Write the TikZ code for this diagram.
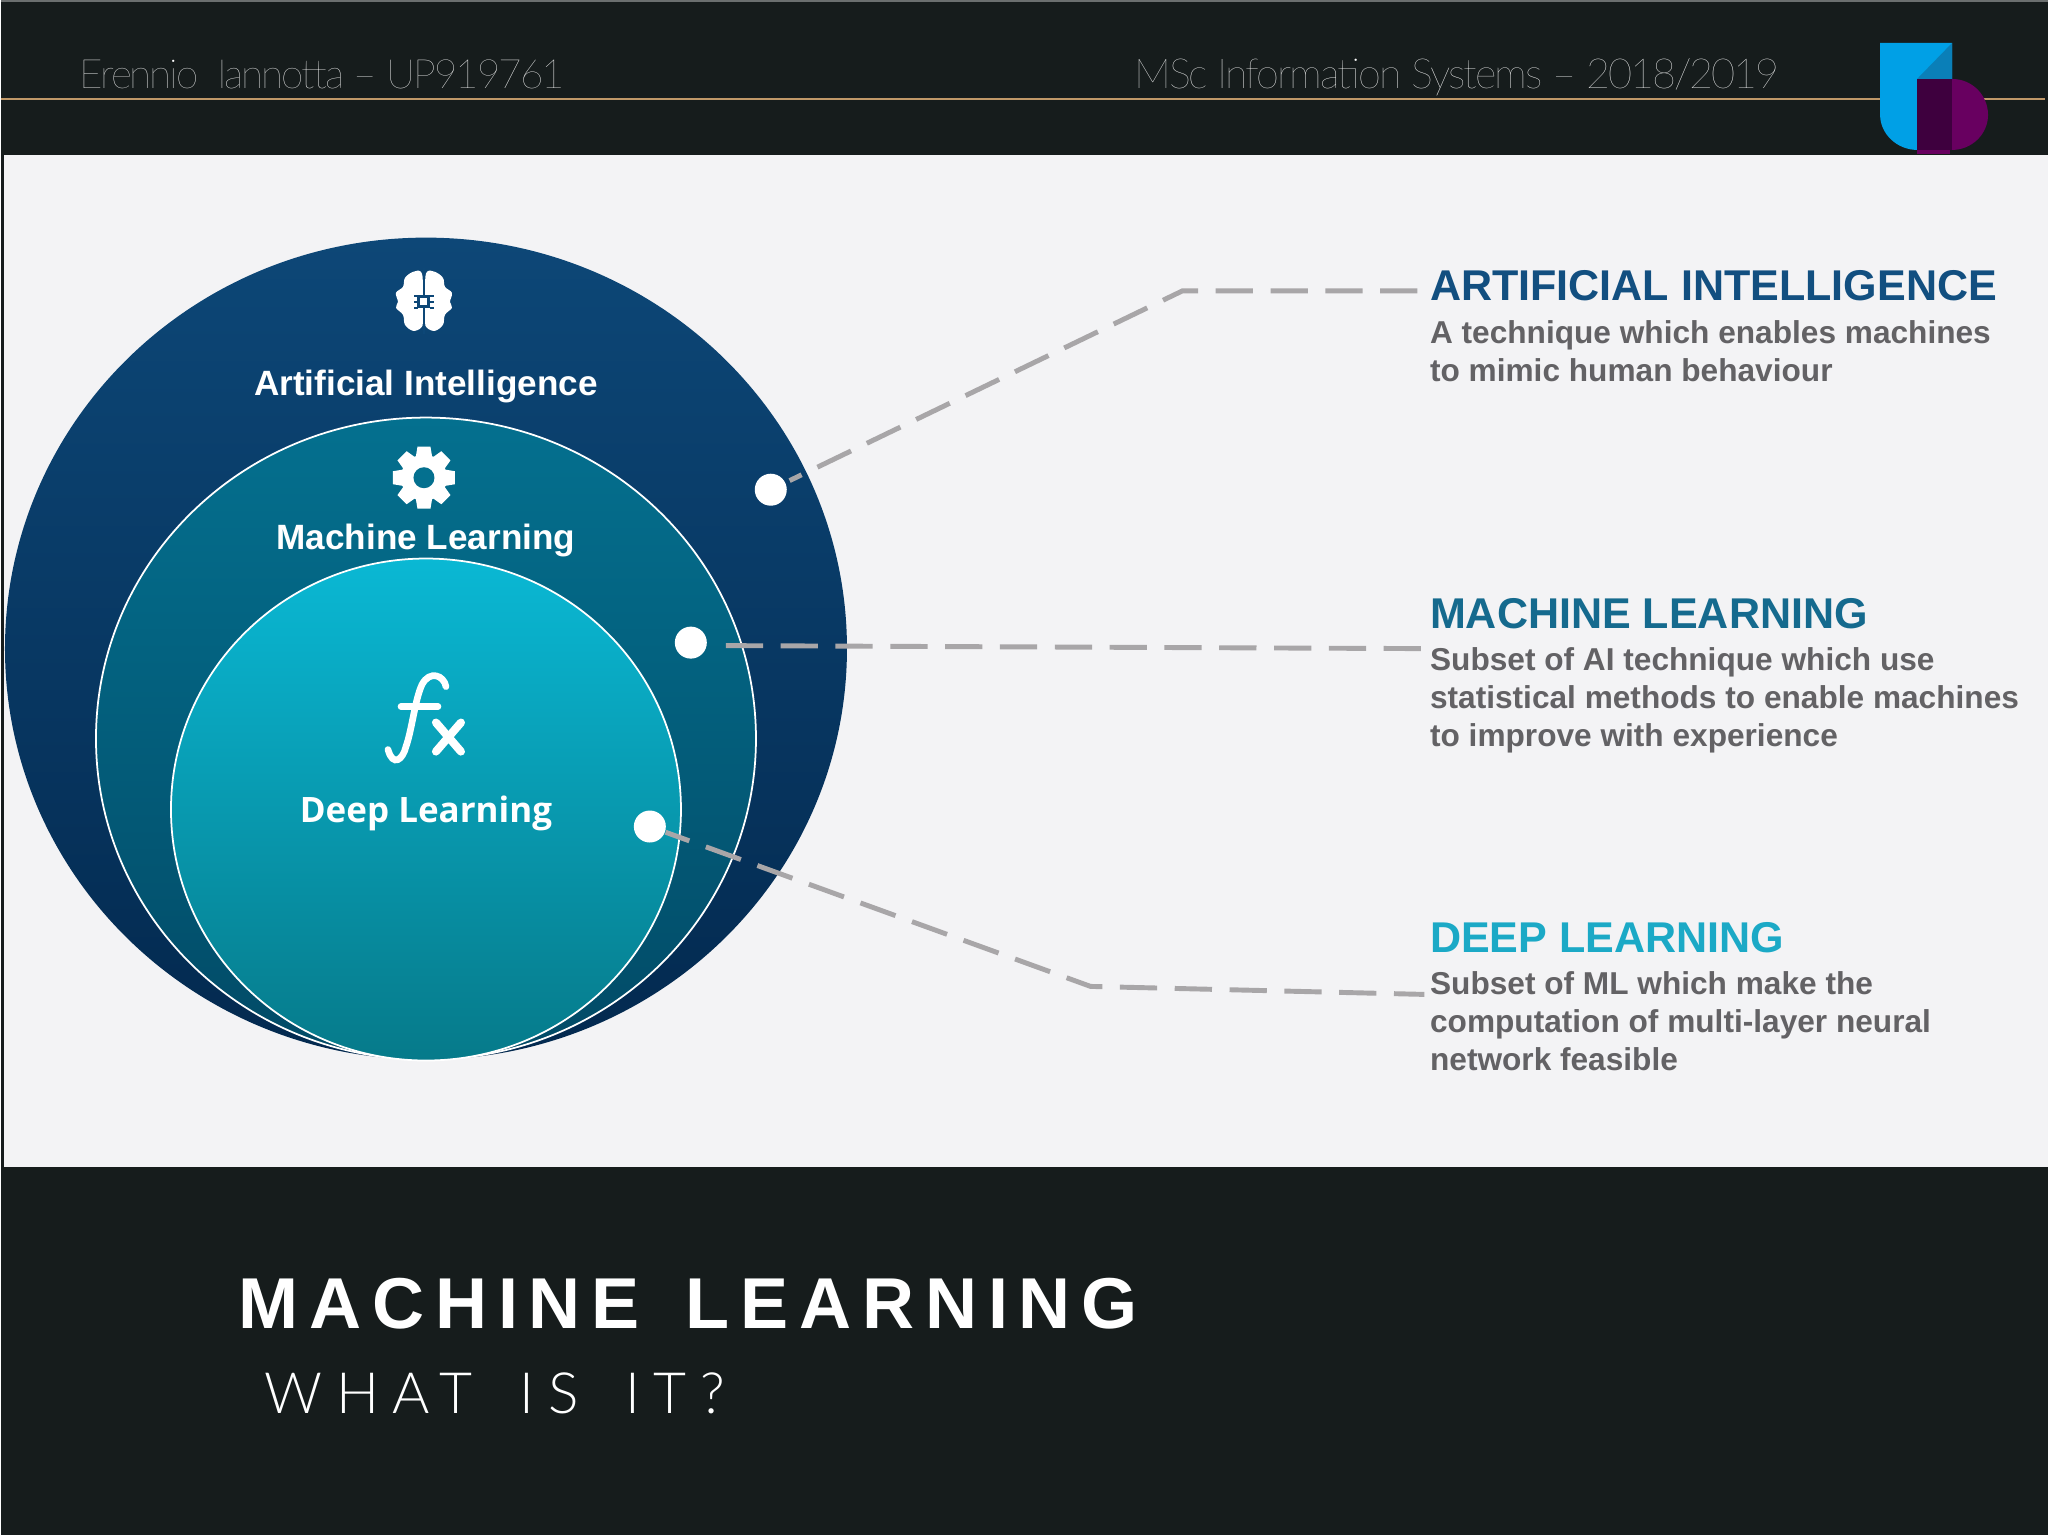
\documentclass[tikz,border=0pt]{standalone}
\usepackage{fontspec}
\usetikzlibrary{shapes.geometric}
\setmainfont{Liberation Sans}
\newfontfamily\thinfont[LetterSpace=-5]{Lato Hairline}
\newfontfamily\lightfont[LetterSpace=24,WordSpace=1.6]{Lato Light}
\newfontfamily\bannerfont[LetterSpace=15,WordSpace=1.5]{Liberation Sans}
\newfontfamily\deepfont{Open Sans}
\definecolor{barcol}{HTML}{161C1C}
\definecolor{panelcol}{HTML}{F3F3F5}
\definecolor{edgecol}{HTML}{6B6F6F}
\definecolor{rulecol}{HTML}{C09868}
\definecolor{leadcol}{HTML}{A8A6A8}
\definecolor{bodycol}{HTML}{636265}
\definecolor{aicol}{HTML}{124F80}
\definecolor{mlcol}{HTML}{156A8E}
\definecolor{dlcol}{HTML}{1BA9C6}
\definecolor{airingtop}{HTML}{0D4777}
\definecolor{airingbot}{HTML}{03294F}
\definecolor{mlringtop}{HTML}{04708F}
\definecolor{mlringbot}{HTML}{024A66}
\definecolor{dlringtop}{HTML}{0AB8D4}
\definecolor{dlringbot}{HTML}{067A8A}
\definecolor{logoblue}{HTML}{00A0E6}
\definecolor{logoshade}{HTML}{0A7FB8}
\definecolor{logopurple}{HTML}{680060}
\definecolor{logodark}{HTML}{3E003E}
\tikzset{
  ringnode/.style={ellipse,inner sep=0pt,outer sep=0pt},
  dotnode/.style={circle,fill=white,inner sep=0pt,minimum size=0.32cm},
  leader/.style={leadcol,line width=1.4pt,dash pattern=on 10.6pt off 5pt},
  headtext/.style={anchor=base west,inner sep=0pt,text=white,font=\thinfont\fontsize{11.5}{15}\selectfont},
  ringtext/.style={anchor=base,inner sep=0pt,text=white,font=\bfseries\fontsize{10}{12}\selectfont},
  titletext/.style={anchor=base west,inner sep=0pt,font=\bfseries\fontsize{12.25}{15}\selectfont},
  bodytext/.style={anchor=north west,inner sep=0pt,align=left,text=bodycol,font=\bfseries\fontsize{9}{10.9}\selectfont}
}
\begin{document}
\begin{tikzpicture}[x=0.01cm,y=-0.01cm]
        %% bars and panel
        \fill[barcol] (0,0) rectangle (2048,1536);
        \fill[edgecol] (0,0) rectangle (2048,1.5);
        \fill[panelcol] (3,155) rectangle (2048,1168);
        \draw[rulecol,line width=0.7pt] (0,99) -- (2045,99);
        \node[headtext] (author) at (78,89) {Erennio\ \ Iannotta – UP919761};
        \node[headtext,font=\thinfont\fontsize{11.8}{15}\selectfont] (course) at (1133,89) {MSc Information Systems – 2018/2019};
        %% logo
        \fill[logoblue] (1880,43) -- (1952,43) -- (1952,79) -- (1917,79) -- (1917,150)
            .. controls (1897,150) and (1880,134) .. (1880,115) -- cycle;
        \fill[logoshade] (1952,43) -- (1952,79) -- (1917,79) -- cycle;
        \fill[logopurple] (1952,79) .. controls (1972,79) and (1988,95) .. (1988,115)
            .. controls (1988,134) and (1972,150) .. (1952,150) -- cycle;
        \fill[logopurple] (1917,150) rectangle (1950,154);
        \fill[logodark] (1917,79) rectangle (1952,150);
        %% nested circles
        \node[ringnode,minimum width=8.42cm,minimum height=8.22cm,top color=airingtop,bottom color=airingbot] (airing) at (425,649) {};
        \node[ringnode,minimum width=6.60cm,minimum height=6.42cm,draw=white,line width=0.5pt,top color=mlringtop,bottom color=mlringbot] (mlring) at (425,739) {};
        \node[ringnode,minimum width=5.10cm,minimum height=5.02cm,draw=white,line width=0.5pt,top color=dlringtop,bottom color=dlringbot] (dlring) at (425,810) {};
        \node[ringtext] (ailabel) at (425,396) {Artificial Intelligence};
        \node[ringtext] (mllabel) at (425,550) {Machine Learning};
        \node[ringtext,font=\deepfont\bfseries\fontsize{9.95}{12}\selectfont] (dllabel) at (425,823) {Deep Learning};
        %% brain icon
        \foreach \s in {-1,1} {
            \fill[white] plot[smooth cycle,tension=0.6] coordinates {({423+\s*1},285) ({423+\s*3},272) ({423+\s*11},272) ({423+\s*19},278) ({423+\s*21},287)
                ({423+\s*28},293) ({423+\s*26},302) ({423+\s*28},308) ({423+\s*21},315) ({423+\s*19},325) ({423+\s*11},331) ({423+\s*3},328) ({423+\s*1},320)};
            \foreach \y in {296,302,308} \draw[airingtop,line width=0.4pt] ({423+\s*6},\y) -- ({423+\s*10},\y);
        }
        \draw[airingtop,line width=0.6pt] (423,268) -- (423,334);
        \fill[airingtop] (416.5,295.5) rectangle (429.5,308.5);
        \fill[white] (419.5,298.5) rectangle (426.5,305.5);
        %% gear icon
        \fill[white] (423,478) circle (23);
        \foreach \a in {0,45,...,315}
            \fill[white,rotate around={\a:(423,478)}] (416.5,447) -- (429.5,447) -- (432,462) -- (414,462) -- cycle;
        \fill[mlringtop] (423,478) circle (10.5);
        %% fx icon
        \draw[white,line width=1.9pt,line cap=round] (445,687) .. controls (443,676) and (429,670) .. (421,685)
            .. controls (414,700) and (411,730) .. (405,747) .. controls (402,760) and (392,768) .. (387,750);
        \draw[white,line width=1.9pt,line cap=round] (400,707) -- (437,707);
        \draw[white,line width=2.3pt,line cap=round] (435,723) -- (460,752);
        \draw[white,line width=2.3pt,line cap=round] (460,723) -- (435,752);
        %% callout dots and leaders
        \node[dotnode] (aidot) at (770,490) {};
        \node[dotnode] (mldot) at (690,643) {};
        \node[dotnode] (dldot) at (649,827) {};
        \coordinate (aibend) at (1182,291);
        \coordinate (aiend) at (1421,291);
        \coordinate (mlstart) at (725,646);
        \coordinate (mlend) at (1423,649);
        \coordinate (dlbend) at (1090,987);
        \coordinate (dlend) at (1424,995);
        \draw[leader,dash phase=6.8pt,shorten <=1.2pt] (aidot) -- (aibend) -- (aiend);
        \draw[leader] (mlstart) -- (mlend);
        \draw[leader,dash phase=3.4pt] (dldot) -- (dlbend) -- (dlend);
        %% descriptions
        \node[titletext,text=aicol] (aititle) at (1429,301) {ARTIFICIAL INTELLIGENCE};
        \node[bodytext] (aibody) at (1429,320) {A technique which enables machines\\to mimic human behaviour};
        \node[titletext,text=mlcol] (mltitle) at (1429,629) {MACHINE LEARNING};
        \node[bodytext] (mlbody) at (1429,647) {Subset of AI technique which use\\statistical methods to enable machines\\to improve with experience};
        \node[titletext,text=dlcol] (dltitle) at (1429,953) {DEEP LEARNING};
        \node[bodytext] (dlbody) at (1429,971) {Subset of ML which make the\\computation of multi-layer neural\\network feasible};
        %% banner
        \node[anchor=base west,inner sep=0pt,text=white,font=\bannerfont\bfseries\fontsize{20.5}{24}\selectfont] (banner) at (237,1329) {MACHINE LEARNING};
        \node[anchor=base west,inner sep=0pt,text=white,font=\lightfont\fontsize{16.2}{20}\selectfont] (subbanner) at (263,1414) {WHAT IS IT?};
    \end{tikzpicture}
\end{document}
